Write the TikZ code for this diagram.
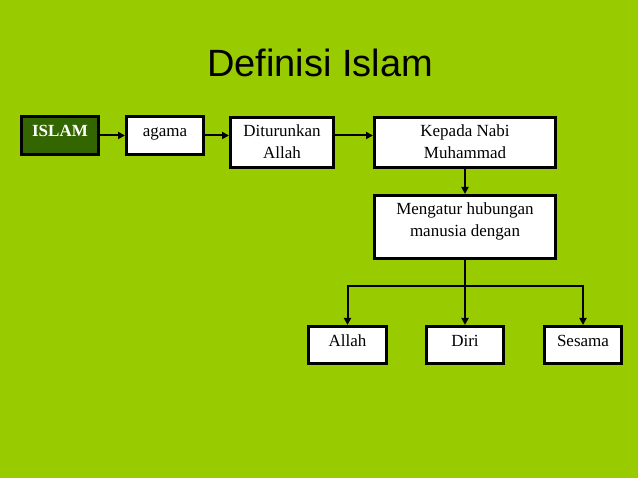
\documentclass[tikz,border=0pt]{standalone}
\usepackage{fontspec}
\setmainfont{Liberation Serif}
\newfontfamily\titlefont{Liberation Sans}
\usetikzlibrary{arrows.meta}
\definecolor{bg}{HTML}{99CC00}
\definecolor{darkg}{HTML}{336600}
\tikzset{
  box/.style={draw=black, line width=3pt, fill=white, inner sep=0pt},
  txt/.style={align=center, inner sep=0pt, anchor=base, font=\fontsize{17}{22}\selectfont},
  arr/.style={draw=black, line width=2pt, -{Triangle[length=7pt,width=7pt]}},
  ttl/.style={font=\titlefont\fontsize{38}{44}\selectfont, text=black, anchor=base, inner sep=0pt}
}
\begin{document}
\begin{tikzpicture}[x=1pt,y=-1pt]
\fill[bg] (0,0) rectangle (638,478);
\useasboundingbox (0,0) rectangle (638,478);
\node[ttl] (title) at (320,77) {Definisi Islam};
\node[box, fill=darkg, minimum width=77, minimum height=38] (islam) at (60,135.5) {};
\node[box, minimum width=77, minimum height=38] (agama) at (165,135.5) {};
\node[box, minimum width=103, minimum height=50] (turun) at (282,142.5) {};
\node[box, minimum width=181, minimum height=50] (nabi) at (465,142.5) {};
\node[box, minimum width=181, minimum height=63] (atur) at (465,227) {};
\node[box, minimum width=78, minimum height=37] (allah) at (347.5,345) {};
\node[box, minimum width=77, minimum height=37] (diri) at (465,345) {};
\node[box, minimum width=77, minimum height=37] (sesama) at (583,345) {};
\node[txt, text=white, font=\fontsize{17}{22}\selectfont\bfseries] (islamt) at (60,137) {ISLAM};
\node[txt] (agamat) at (165,137) {agama};
\node[txt] (turunt) at (282,159) {Diturunkan\\Allah};
\node[txt] (nabit) at (465,159) {Kepada Nabi\\Muhammad};
\node[txt] (ataut) at (465,237) {Mengatur hubungan\\manusia dengan};
\node[txt] (allaht) at (347.5,347) {Allah};
\node[txt] (dirit) at (465,347) {Diri};
\node[txt] (sesamat) at (583,347) {Sesama};
\coordinate (bus) at (465,286);
\draw[arr] (islam.east) -- (agama.west);
\draw[arr] (agama.east) -- (agama.east -| turun.west);
\draw[arr] (agama.east -| turun.east) -- (agama.east -| nabi.west);
\draw[arr] (nabi.south) -- (atur.north);
\draw[line width=2pt] (atur.south) -- (bus);
\draw[arr] (bus) -| (allah.north);
\draw[arr] (bus) -- (diri.north);
\draw[arr] (bus) -| (sesama.north);
\end{tikzpicture}
\end{document}
